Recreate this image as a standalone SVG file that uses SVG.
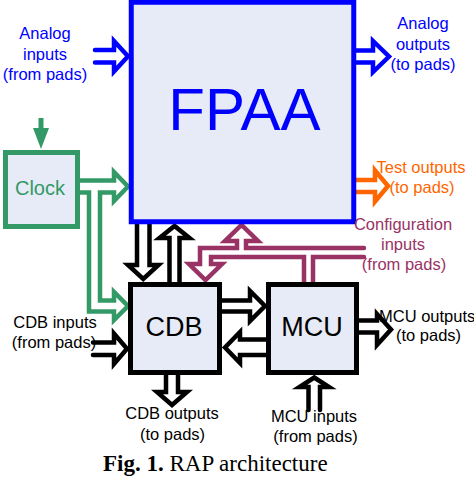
<svg xmlns="http://www.w3.org/2000/svg" width="474" height="477" viewBox="0 0 474 477">
<style>
.lbl{font-family:"Liberation Sans",Arial,sans-serif;font-size:16.5px}
.ha{fill:none;stroke-width:4.5;stroke-linejoin:miter;stroke-linecap:round}
.box{fill:#e6ebf7;stroke-width:5}
.blue{stroke:#0000ff}
.blk{stroke:#000}
.grn{stroke:#339966}
.org{stroke:#ff6600}
.mag{stroke:#993366}
</style>
<rect width="474" height="477" fill="#fff"/>
<g id="connectors">
  <path class="ha blue" d="M95 50 H114 V41 L128 56.25 L114 71.5 V62.5 H95"/>
  <path class="ha blue" d="M356 50.5 H373 V41 L389 56.5 L373 72 V62.5 H356"/>
  <path class="ha org" d="M356 180 H375 V170.5 L388 186 L375 201.5 V192 H356"/>
  <path class="ha grn" d="M78 180.5 H114 V172 L128 186.5 L114 201 V192.5 H100 V300.5 H114 V292 L128 306 L114 320 V311.5 H89 V192.5 H78"/>
  <line x1="41" y1="118" x2="41" y2="131" stroke="#339966" stroke-width="5"/>
  <polygon points="33,128 49,128 41,149" fill="#339966"/>
  <path class="ha blk" d="M137 223 V265 H128 L143.25 279 L158.5 265 H149.5 V223"/>
  <path class="ha blk" d="M169.5 283 V238 H159.5 L174.5 226 L189.5 238 H179.5 V283"/>
  <path class="ha mag" d="M364 248 H246 V241 H258 L241.5 225 L225 241 H237 V248 H200 V264 H189 L205.5 280 L222 264 H211 V257 H304 V283"/>
  <path class="ha mag" d="M364 257 H313 V283"/>
  <path class="ha blk" d="M93 342.5 H114 V333.5 L127 348.75 L114 364 V355 H93"/>
  <path class="ha blk" d="M166 374 V392 H157 L172 405 L187 392 H178 V374"/>
  <path class="ha blk" d="M221 300.5 H250 V291 L265 306 L250 321 V311.5 H221"/>
  <path class="ha blk" d="M267 339.5 H240 V332 L225 347.5 L240 363 V355 H267"/>
  <path class="ha blk" d="M358 320.5 H377 V314 L391 329.5 L377 345 V332.5 H358"/>
  <path class="ha blk" d="M308.5 410 V387 H299.5 L314.25 377.5 L329 387 H320 V410"/>
</g>
<g id="fpaa">
  <rect class="box blue" x="131.25" y="2.25" width="222.5" height="219.5" stroke-width="4.5"/>
  <text x="244.5" y="130" font-family="Liberation Sans,Arial,sans-serif" font-size="60" fill="#0000ff" text-anchor="middle">FPAA</text>
</g>
<g id="clock">
  <rect class="box grn" x="5.5" y="152.5" width="72" height="74"/>
  <text x="40" y="195" font-family="Liberation Sans,Arial,sans-serif" font-size="20" fill="#339966" text-anchor="middle">Clock</text>
</g>
<g id="cdb">
  <rect class="box blk" x="130.5" y="284.5" width="89" height="88"/>
  <text x="174" y="336" font-family="Liberation Sans,Arial,sans-serif" font-size="27" fill="#000" text-anchor="middle">CDB</text>
</g>
<g id="mcu">
  <rect class="box blk" x="268.5" y="284.5" width="88" height="88"/>
  <text x="312" y="336" font-family="Liberation Sans,Arial,sans-serif" font-size="27" fill="#000" text-anchor="middle">MCU</text>
</g>
<g id="labels">
  <text class="lbl" fill="#0000ff" text-anchor="middle"><tspan x="45" y="39">Analog</tspan><tspan x="45" y="59.5">inputs</tspan><tspan x="45" y="80">(from pads)</tspan></text>
  <text class="lbl" fill="#0000ff" text-anchor="middle"><tspan x="423" y="29">Analog</tspan><tspan x="423" y="49.5">outputs</tspan><tspan x="423" y="70">(to pads)</tspan></text>
  <text class="lbl" fill="#ff6600" text-anchor="middle"><tspan x="421" y="173">Test outputs</tspan><tspan x="422" y="193">(to pads)</tspan></text>
  <text class="lbl" fill="#993366" text-anchor="middle"><tspan x="403" y="230">Configuration</tspan><tspan x="403" y="250">inputs</tspan><tspan x="404" y="270">(from pads)</tspan></text>
  <text class="lbl" fill="#000" text-anchor="middle"><tspan x="55" y="328">CDB inputs</tspan><tspan x="54" y="348">(from pads)</tspan></text>
  <text class="lbl" fill="#000" text-anchor="middle"><tspan x="172" y="419">CDB outputs</tspan><tspan x="172.5" y="440">(to pads)</tspan></text>
  <text class="lbl" fill="#000"><tspan x="379" y="322">MCU outputs</tspan><tspan x="396" y="341">(to pads)</tspan></text>
  <text class="lbl" fill="#000" text-anchor="middle"><tspan x="314" y="422">MCU inputs</tspan><tspan x="315.5" y="442">(from pads)</tspan></text>
  <text x="103" y="471" font-family="Liberation Serif,Times New Roman,serif" font-size="23" fill="#000"><tspan font-weight="bold">Fig. 1.</tspan> RAP architecture</text>
</g>
</svg>
